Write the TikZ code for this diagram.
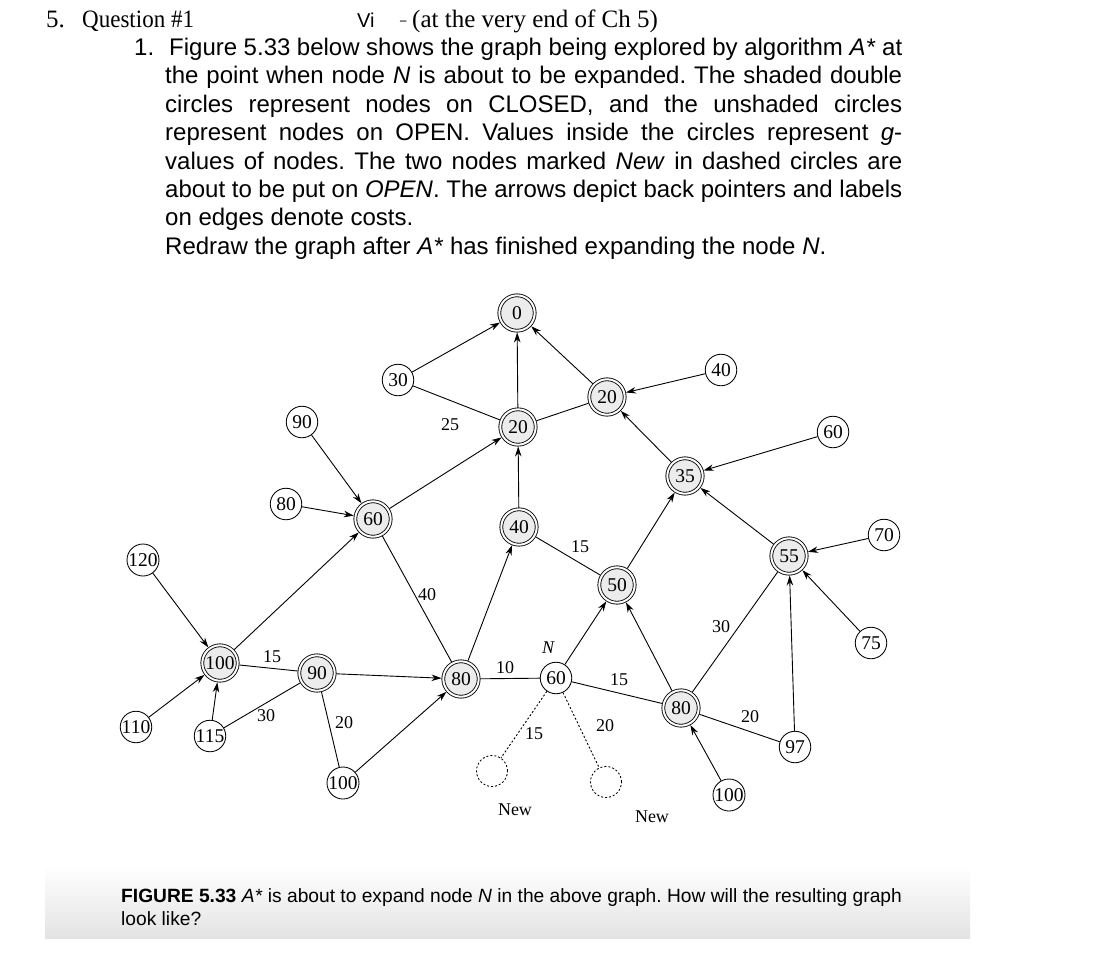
\documentclass[tikz,border=0pt]{standalone}
\usepackage{fontspec}
\setmainfont{Liberation Serif}
\newfontfamily\arial{Liberation Sans}
\usetikzlibrary{arrows.meta}
\frenchspacing
\tikzset{
  closed/.style={circle, draw, line width=0.85pt, double=white, double distance=2pt,
    fill=gray!15, minimum size=35.4pt, inner sep=0pt, outer sep=1.8pt,
    font=\fontsize{19.5}{19.5}\selectfont},
  opn/.style={circle, draw, line width=0.85pt, fill=white, minimum size=31.5pt,
    inner sep=0pt, font=\fontsize{19.5}{19.5}\selectfont},
  newn/.style={circle, draw, line width=0.85pt, dash pattern=on 2pt off 2pt, minimum size=31pt},
  edge/.style={line width=0.9pt},
  bp/.style={edge, -{Stealth[length=10pt,width=6.5pt]}},
  dedge/.style={edge, dash pattern=on 2pt off 2pt},
  elab/.style={font=\fontsize{18}{18}\selectfont, inner sep=0pt},
  body/.style={anchor=base west, inner sep=0pt, font=\arial\fontsize{24}{28}\selectfont},
  capt/.style={anchor=base west, inner sep=0pt, font=\arial\fontsize{19.2}{22}\selectfont},
  head/.style={anchor=base west, inner sep=0pt, font=\fontsize{25}{25}\selectfont},
}
\begin{document}
\begin{tikzpicture}[x=1pt,y=-1pt]
\useasboundingbox (0,0) rectangle (1112,975);
\fill[white] (0,0) rectangle (1112,975);

% header
\node[head] (h1) at (46,27) {5.};
\node[head] (h2) at (82,27) {\scalebox{0.92}[1]{Question \#1}};
\node[anchor=base west, inner sep=0pt, font=\arial\fontsize{20}{20}\selectfont] (h3) at (357,27) {Vi};
\node[head, text=gray] (h4) at (399,27) {-};
\node[head] (h5) at (412,27) {(at the very end of Ch 5)};

% body text
\node[body] (t0) at (134,55.5) {1.};
\node[body] (t1) at (169,55.5) {\makebox[733pt][s]{Figure 5.33 below shows the graph being explored by algorithm \textit{A*} at}};
\node[body] (t2) at (165,83.9) {\makebox[737pt][s]{the point when node \textit{N} is about to be expanded. The shaded double}};
\node[body] (t3) at (165,112.3) {\makebox[737pt][s]{circles represent nodes on CLOSED, and the unshaded circles}};
\node[body] (t4) at (165,140.7) {\makebox[737pt][s]{represent nodes on OPEN. Values inside the circles represent \textit{g}-}};
\node[body] (t5) at (165,169.1) {\makebox[737pt][s]{values of nodes. The two nodes marked \textit{New} in dashed circles are}};
\node[body] (t6) at (165,197.5) {\makebox[737pt][s]{about to be put on \textit{OPEN}. The arrows depict back pointers and labels}};
\node[body] (t7) at (165,225.9) {on edges denote costs.};
\node[body] (t8) at (165,254.3) {Redraw the graph after \textit{A*} has finished expanding the node \textit{N}.};

% nodes
\node[closed] (n0) at (517,313) {0};
\node[opn] (n30) at (398,380) {30};
\node[closed] (n20a) at (518,427) {20};
\node[closed] (n20b) at (607,397) {20};
\node[opn] (n40a) at (721,370) {40};
\node[opn] (n90a) at (302,422) {90};
\node[opn] (n60b) at (833,432) {60};
\node[closed] (n35) at (685,476) {35};
\node[opn] (n80a) at (286,504) {80};
\node[closed] (n60) at (373,519) {60};
\node[closed] (n40) at (519,527) {40};
\node[opn] (n70) at (884,535) {70};
\node[closed] (n55) at (789,556) {55};
\node[closed] (n50) at (617,585) {50};
\node[opn] (n120) at (143,560) {120};
\node[closed] (n100a) at (220,663) {100};
\node[closed] (n90) at (317,673) {90};
\node[closed] (n80) at (461,679) {80};
\node[opn] (nN) at (556,678) {60};
\node[opn] (n75) at (871,643) {75};
\node[closed] (n80b) at (681,708) {80};
\node[opn] (n110) at (136,727) {110};
\node[opn] (n115) at (210,736) {115};
\node[opn] (n97) at (795,747) {97};
\node[opn] (n100b) at (343,783) {100};
\node[opn] (n100c) at (729,795) {100};
\node[newn] (new1) at (492,771) {};
\node[newn] (new2) at (606,782) {};

% back pointers
\draw[bp] (n30) -- (n0);
\draw[bp] (n20a) -- (n0);
\draw[bp] (n20b) -- (n0);
\draw[bp] (n40a) -- (n20b);
\draw[bp] (n35) -- (n20b);
\draw[bp] (n60b) -- (n35);
\draw[bp] (n50) -- (n35);
\draw[bp] (n55) -- (n35);
\draw[bp] (n70) -- (n55);
\draw[bp] (n75) -- (n55);
\draw[bp] (n97) -- (n55);
\draw[bp] (n80b) -- (n50);
\draw[bp] (nN) -- (n50);
\draw[bp] (n100c) -- (n80b);
\draw[bp] (n40) -- (n20a);
\draw[bp] (n80) -- (n40);
\draw[bp] (n60) -- (n20a);
\draw[bp] (n90a) -- (n60);
\draw[bp] (n80a) -- (n60);
\draw[bp] (n100a) -- (n60);
\draw[bp] (n120) -- (n100a);
\draw[bp] (n110) -- (n100a);
\draw[bp] (n115) -- (n100a);
\draw[bp] (n90) -- (n80);
\draw[bp] (n100b) -- (n80);

% plain edges
\draw[edge] (n30) -- (n20a);
\draw[edge] (n20a) -- (n20b);
\draw[edge] (n40) -- (n50);
\draw[edge] (n60) -- (n80);
\draw[edge] (n100a) -- (n90);
\draw[edge] (n115) -- (n90);
\draw[edge] (n90) -- (n100b);
\draw[edge] (n80) -- (nN);
\draw[edge] (nN) -- (n80b);
\draw[edge] (n80b) -- (n97);
\draw[edge] (n80b) -- (n55);
\draw[dedge] (nN) -- (new1);
\draw[dedge] (nN) -- (new2);

% edge labels
\node[elab] (l25) at (450,425) {25};
\node[elab] (l15a) at (580,547) {15};
\node[elab] (l40) at (427,595) {40};
\node[elab] (l15b) at (272,657) {15};
\node[elab] (l30a) at (266,716) {30};
\node[elab] (l20a) at (344,723) {20};
\node[elab] (l10) at (505,668) {10};
\node[elab, font=\itshape\fontsize{18}{18}\selectfont] (lN) at (548,648) {N};
\node[elab] (l15c) at (619,680) {15};
\node[elab] (l15d) at (534,734) {15};
\node[elab] (l20b) at (605,726) {20};
\node[elab] (l20c) at (750,717) {20};
\node[elab] (l30b) at (721,627) {30};
\node[elab] (lnew1) at (515,810) {New};
\node[elab] (lnew2) at (652,817) {New};

% caption
\shade[top color=white, bottom color=gray!22] (45,866) rectangle (970,938);
\node[capt] (c1) at (121,902) {\textbf{FIGURE 5.33} \textit{A*} is about to expand node \textit{N} in the above graph. How will the resulting graph};
\node[capt] (c2) at (121,925) {look like?};
\end{tikzpicture}
\end{document}
